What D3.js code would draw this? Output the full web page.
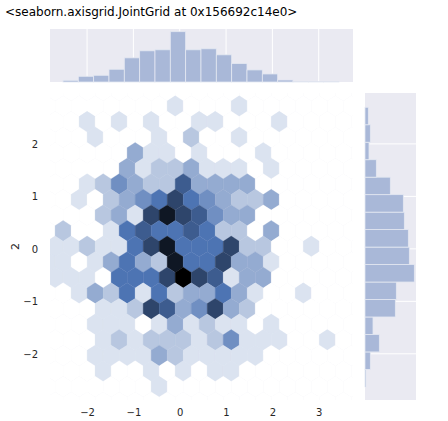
<!DOCTYPE html>
<html>
<head>
<meta charset="utf-8">
<script src="https://cdn.jsdelivr.net/npm/d3@7"></script>
<style>
  body { margin: 0; background: #fff; }
  text { font-family: "DejaVu Sans", sans-serif; }
</style>
</head>
<body>
<div id="chart"></div>
<script>
// hexbin counts, one string per hex row, top row (k=8) to bottom row (k=-12), 'a' = 10
const hexRows = [
  "00000000000000000000",
  "00000000100010000000",
  "00101010011000100000",
  "00010001020010000000",
  "00000311010001000000",
  "00000312231110100000",
  "00124322633330000000",
  "00102345754322300000",
  "00023179764330000000",
  "02001565565220300000",
  "11211579555722001000",
  "11013532955733100000",
  "11105557a76133000000",
  "00132515233531001000",
  "00011276347320000000",
  "00011101312110100000",
  "00012122212411100100",
  "00011113211111000000",
  "00010010101100000000",
  "00000001000000000000",
  "00000000000000000000"
];
const rowTopK = 8;

// marginal histograms
const xHistStart = -2.52, xHistWidth = 0.331;
const xHistCounts = [5, 17, 20, 38, 72, 93, 96, 150, 96, 99, 81, 55, 36, 24, 6, 1, 1, 1];
const yHistStart = -2.63, yHistWidth = 0.333;
// bottom bin to top bin
const yHistCounts = [3, 16, 43, 24, 91, 94, 148, 133, 130, 118, 115, 76, 34, 12, 16, 10];

const xTicks = [-2, -1, 0, 1, 2, 3];
const yTicks = [-2, -1, 0, 1, 2];
const title = "<seaborn.axisgrid.JointGrid at 0x156692c14e0>";
const yLabel = "2";

const W = 448, H = 421;
const main = {left: 50, right: 353, top: 93, bottom: 400};
const topH = {top: 29, bottom: 82};
const rightH = {left: 365, right: 416};

const svg = d3.select("#chart").append("svg").attr("width", W).attr("height", H);

const x = d3.scaleLinear().domain([-2.8, 3.74]).range([main.left, main.right]);
const y = d3.scaleLinear().domain([-2.88, 2.97]).range([main.bottom, main.top]);
const cTop = d3.scaleLinear().domain([0, 158]).range([topH.bottom, topH.top]);
const cRight = d3.scaleLinear().domain([0, 153]).range([rightH.left, rightH.right]);

const bg = "#eaeaf2";
const histFill = "#a9b8d8";

// main panel
svg.append("rect").attr("x", main.left).attr("y", main.top)
  .attr("width", main.right - main.left).attr("height", main.bottom - main.top).attr("fill", bg);
const gridG = svg.append("g");
xTicks.forEach(t => gridG.append("line").attr("x1", x(t)).attr("x2", x(t))
  .attr("y1", main.top).attr("y2", main.bottom).attr("stroke", "#fff"));
yTicks.forEach(t => gridG.append("line").attr("y1", y(t)).attr("y2", y(t))
  .attr("x1", main.left).attr("x2", main.right).attr("stroke", "#fff"));

svg.append("clipPath").attr("id", "mainClip").append("rect")
  .attr("x", main.left).attr("y", main.top)
  .attr("width", main.right - main.left).attr("height", main.bottom - main.top);

const dx = 0.3456, dy = 0.297, x0 = -2.69, y0 = 0.64;
const sy = 2 * dy;
const cells = [];
hexRows.forEach((row, r) => {
  const k = rowTopK - r;
  const odd = Math.abs(k) % 2 === 1;
  const startX = odd ? x0 - dx / 2 : x0;
  row.split("").forEach((ch, i) => {
    cells.push({cx: startX + i * dx, cy: y0 + k * dy, c: parseInt(ch, 16)});
  });
});
const color = c => d3.hsl(217, 0.4, 1 - c / 10).formatHex();
const hexPath = d => {
  const pts = [[dx / 2, -sy / 6], [dx / 2, sy / 6], [0, sy / 3], [-dx / 2, sy / 6], [-dx / 2, -sy / 6], [0, -sy / 3]];
  return "M" + pts.map(p => [x(d.cx + p[0]), y(d.cy + p[1])].join(",")).join("L") + "Z";
};
svg.append("g").attr("clip-path", "url(#mainClip)")
  .selectAll("path").data(cells).enter().append("path")
  .attr("d", hexPath)
  .attr("fill", d => color(d.c))
  .attr("stroke", d => color(d.c)).attr("stroke-width", 0.3);

// axes
const tickStyle = g => {
  g.select(".domain").remove();
  g.selectAll(".tick line").remove();
  g.selectAll(".tick text").attr("fill", "#262626").attr("font-size", 10)
    .attr("font-family", "DejaVu Sans, sans-serif");
};
svg.append("g").attr("transform", `translate(0,${main.bottom})`)
  .call(d3.axisBottom(x).tickValues(xTicks).tickSize(0).tickPadding(9).tickFormat(d => d < 0 ? "\u2212" + (-d) : d))
  .call(tickStyle);
svg.append("g").attr("transform", `translate(${main.left},0)`)
  .call(d3.axisLeft(y).tickValues(yTicks).tickSize(0).tickPadding(12).tickFormat(d => d < 0 ? "\u2212" + (-d) : d))
  .call(tickStyle);
svg.append("text").attr("transform", `translate(19,${(main.top + main.bottom) / 2}) rotate(-90)`)
  .attr("text-anchor", "middle").attr("font-size", 11).attr("fill", "#262626").text(yLabel);

// top histogram
svg.append("rect").attr("x", main.left).attr("y", topH.top)
  .attr("width", main.right - main.left).attr("height", topH.bottom - topH.top).attr("fill", bg);
xTicks.forEach(t => svg.append("line").attr("x1", x(t)).attr("x2", x(t))
  .attr("y1", topH.top).attr("y2", topH.bottom).attr("stroke", "#fff"));
svg.append("g").selectAll("rect").data(xHistCounts).enter().append("rect")
  .attr("x", (d, i) => x(xHistStart + i * xHistWidth))
  .attr("width", x(xHistStart + xHistWidth) - x(xHistStart))
  .attr("y", d => cTop(d)).attr("height", d => cTop(0) - cTop(d))
  .attr("fill", histFill).attr("stroke", "#e4e8f2").attr("stroke-width", 0.8);

// right histogram
svg.append("rect").attr("x", rightH.left).attr("y", main.top)
  .attr("width", rightH.right - rightH.left).attr("height", main.bottom - main.top).attr("fill", bg);
yTicks.forEach(t => svg.append("line").attr("y1", y(t)).attr("y2", y(t))
  .attr("x1", rightH.left).attr("x2", rightH.right).attr("stroke", "#fff"));
svg.append("g").selectAll("rect").data(yHistCounts).enter().append("rect")
  .attr("y", (d, i) => y(yHistStart + (i + 1) * yHistWidth))
  .attr("height", y(yHistStart) - y(yHistStart + yHistWidth))
  .attr("x", cRight(0)).attr("width", d => cRight(d) - cRight(0))
  .attr("fill", histFill).attr("stroke", "#e4e8f2").attr("stroke-width", 0.8);

// title
svg.append("text").attr("x", 5).attr("y", 16).attr("font-family", "DejaVu Sans Mono, monospace")
  .attr("font-size", 12).attr("fill", "#000").text(title);
</script>
</body>
</html>
